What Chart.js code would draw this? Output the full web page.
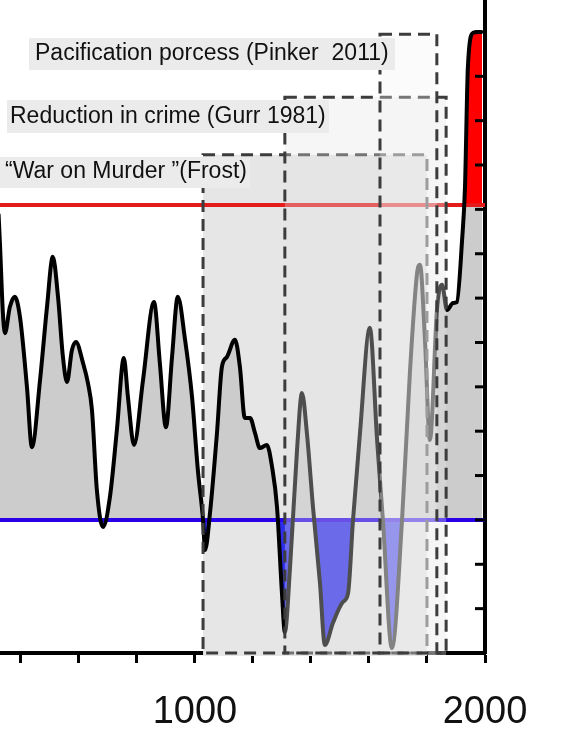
<!DOCTYPE html>
<html><head><meta charset="utf-8">
<script src="https://cdn.jsdelivr.net/npm/chart.js@4.4.1/dist/chart.umd.min.js"></script>
<style>html,body{margin:0;padding:0;background:#fff;overflow:hidden}#wrap{width:573px;height:736px;position:relative}</style>
</head><body><div id="wrap"><canvas id="c"></canvas></div>
<script>
// ---- data ----
const years = [323,328,338,345,362,379,397,421,438,466,490,510,528,545,559,576,590,614,631,645,662,683,707,731,755,769,790,821,859,879,900,921,941,966,990,1010,1028,1035,1052,1076,1093,1110,1138,1155,1172,1190,1207,1224,1248,1266,1283,1300,1310,1328,1352,1369,1386,1407,1431,1448,1476,1510,1528,1545,1569,1603,1628,1648,1679,1714,1741,1766,1776,1793,1810,1835,1852,1869,1890,1903,1921,1931,1941,1959,1976,1990];
const values = [9.9,9.20,7.66,7.21,7.80,8.03,7.57,5.99,4.64,6.15,7.80,8.93,8.03,6.67,6.11,6.83,7.01,6.54,6.09,5.48,3.67,2.84,3.52,5.03,6.65,5.77,4.69,6.15,7.91,6.54,5.09,6.67,8.03,7.06,5.77,4.13,3.00,2.32,3.16,4.96,6.45,6.67,7.06,6.45,5.30,5.30,4.96,4.62,4.69,4.19,3.29,1.35,0.47,1.94,4.58,5.86,4.96,3.29,1.58,0.18,0.68,1.15,1.35,3.00,4.96,7.33,4.80,3.00,0.11,3.00,6.31,8.57,8.75,7.06,4.80,7.80,8.30,7.73,7.89,7.91,9.31,10.5,13.21,13.98,14.0,14.0];
const lowLevel = 3;
const highLevel = 10.1;
const xRange = [328, 2000];
const yRange = [0, 14.72];
const xTickValues = [400,600,800,1000,1200,1400,1600,1800,2000];
const xLabelValues = [1000,2000];
const yTickValues = [1,2,3,4,5,6,7,8,9,10,11,12,13,14];
const periodNames = ['\u201CWar on Murder \u201D(Frost)','Reduction in crime (Gurr 1981)','Pacification porcess (Pinker  2011)'];
const periodStart = [1028,1310,1638];
const periodEnd = [1800,1866,1834];
const periodTop = [11.23,12.53,13.95];

// ---- styling / layout ----
const pts = years.map((yr,i)=>({x:yr,y:values[i]}));
const hline = v => [{x:xRange[0]-50,y:v},{x:xRange[1],y:v}];
const periodFill = ['#e6e6e6','rgba(228,228,228,0.34)','rgba(242,242,242,0.32)'];
const labelBox = [[0,157,250,31,5,172],[7,100,322,33,10,117],[29,38,366,32,35,54]];

function boxRect(chart,i){
  const {chartArea,scales:{x,y}} = chart;
  const l = x.getPixelForValue(periodStart[i]), r = x.getPixelForValue(periodEnd[i]);
  const t = y.getPixelForValue(periodTop[i]);
  return [l,t,r,chartArea.bottom];
}
function fillBox(chart,i,extra){
  const ctx=chart.ctx; const [l,t,r,b]=boxRect(chart,i);
  ctx.save(); ctx.fillStyle=periodFill[i]; ctx.fillRect(l,t,r-l,b-t+(extra||0)); ctx.restore();
}
function strokeBox(chart,i){
  const ctx=chart.ctx; const [l,t,r,b]=boxRect(chart,i);
  ctx.save(); ctx.setLineDash([12,7]); ctx.lineWidth=3; ctx.strokeStyle='#3c3c3c';
  ctx.strokeRect(l,t,r-l,b-t); ctx.restore();
}
const periodPlugin = {
  id:'periods',
  beforeDatasetsDraw(chart){ fillBox(chart,0,3); },
  afterDatasetsDraw(chart){
    const {ctx,chartArea,scales:{y}} = chart;
    strokeBox(chart,0);
    fillBox(chart,1,2); strokeBox(chart,1);
    fillBox(chart,2,2); strokeBox(chart,2);
    // inward y ticks
    ctx.save(); ctx.strokeStyle='#000'; ctx.lineWidth=3;
    yTickValues.forEach(v=>{const py=y.getPixelForValue(v); ctx.beginPath(); ctx.moveTo(chartArea.right-10,py); ctx.lineTo(chartArea.right,py); ctx.stroke();});
    ctx.restore();
    // labels
    ctx.save(); ctx.font='23px "Liberation Sans", Arial, sans-serif'; ctx.textBaseline='middle'; ctx.textAlign='left';
    periodNames.forEach((name,i)=>{
      const [bx,by,bw,bh,tx,ty]=labelBox[i];
      ctx.fillStyle='#ebebeb'; ctx.fillRect(bx,by,bw,bh);
      ctx.fillStyle='#111'; ctx.fillText(name,tx,ty);
    });
    ctx.restore();
  }
};

new Chart(document.getElementById('c'),{
  type:'line',
  data:{datasets:[
    {data:pts,borderColor:'#000',borderWidth:4,pointRadius:0,fill:false,cubicInterpolationMode:'monotone',order:0},
    {data:hline(lowLevel),borderColor:'#2a00ea',borderWidth:4,pointRadius:0,fill:false,order:1},
    {data:hline(highLevel),borderColor:'#e31b1b',borderWidth:4,pointRadius:0,fill:false,order:1},
    {data:pts,borderWidth:0,borderColor:'rgba(0,0,0,0)',pointRadius:0,cubicInterpolationMode:'monotone',order:2,
      fill:{target:{value:highLevel},above:'#ff0000',below:'rgba(0,0,0,0)'}},
    {data:pts,borderWidth:0,borderColor:'rgba(0,0,0,0)',pointRadius:0,cubicInterpolationMode:'monotone',order:3,
      fill:{target:{value:lowLevel},above:'#cccccc',below:'#2d2deb'}}
  ]},
  options:{
    responsive:true,maintainAspectRatio:false,animation:false,
    layout:{padding:0},
    plugins:{legend:{display:false},tooltip:{enabled:false}},
    scales:{
      x:{type:'linear',min:xRange[0],max:xRange[1],
        afterBuildTicks:s=>{s.ticks=xTickValues.map(v=>({value:v}));},
        afterFit:s=>{s.height=83;s.paddingLeft=0;s.paddingRight=0;},
        ticks:{autoSkip:false,maxRotation:0,padding:27,color:'#111',font:{size:38,family:'"Liberation Sans", Arial, sans-serif'},
          callback:v=>xLabelValues.includes(v)?String(v):''},
        grid:{display:true,drawOnChartArea:false,drawTicks:true,tickLength:10,tickWidth:3,tickColor:'#000'},
        border:{display:true,color:'#000',width:4}},
      y:{type:'linear',position:'right',min:yRange[0],max:yRange[1],
        afterFit:s=>{s.width=88;s.paddingTop=0;s.paddingBottom=0;},
        ticks:{display:false},
        grid:{display:false},
        border:{display:true,color:'#000',width:4}}
    }
  },
  plugins:[periodPlugin]
});
</script></body></html>
